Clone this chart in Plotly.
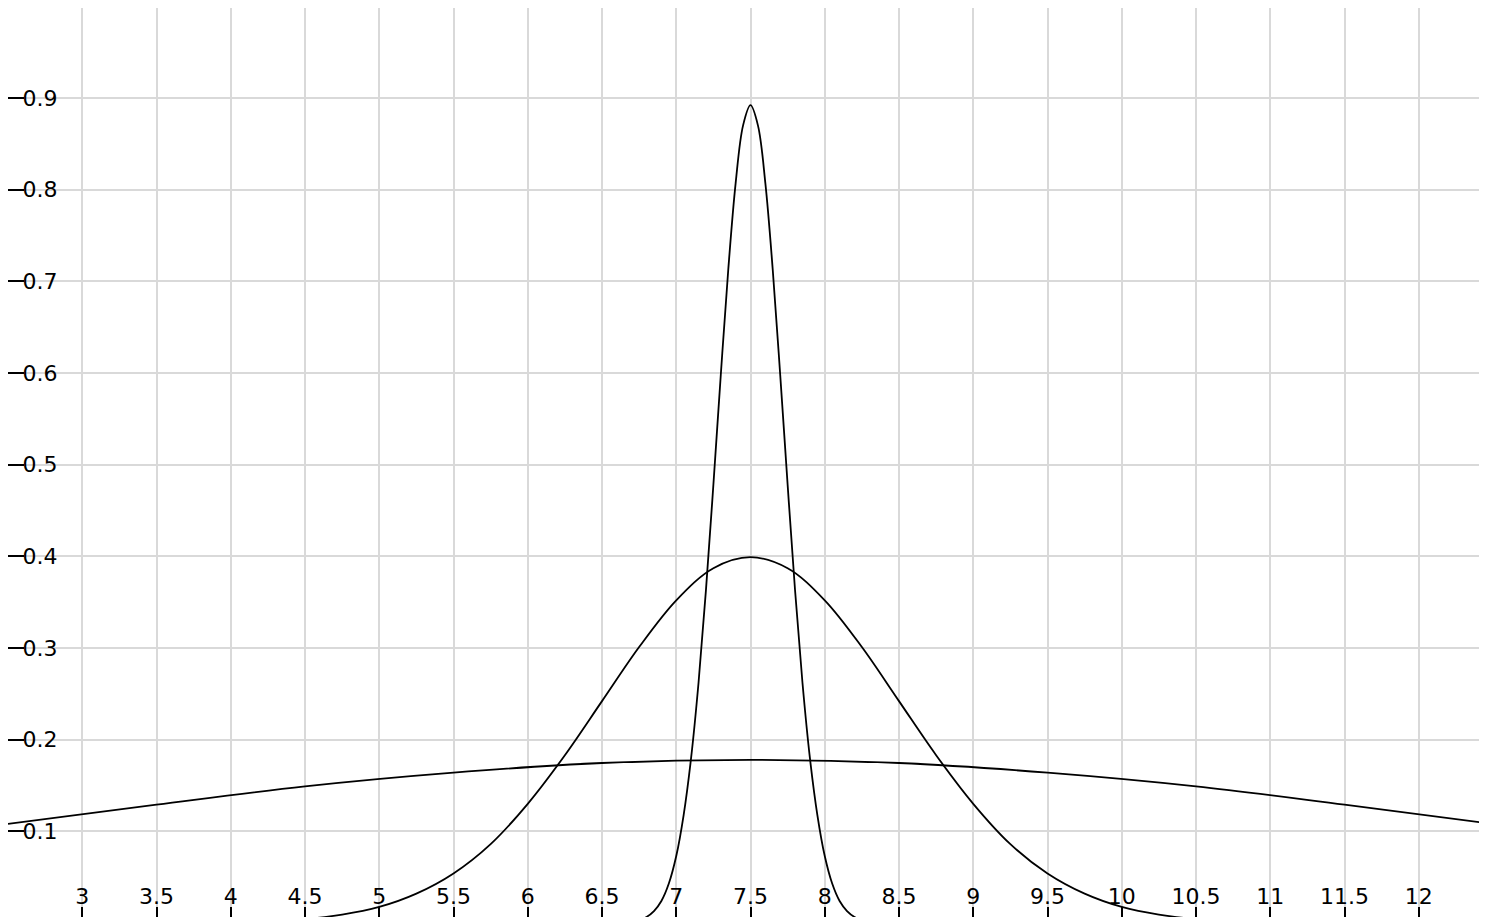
import plotly.graph_objects as go

# narrow curve (peak ~0.89)
x_narrow = [6.5, 6.65, 6.75, 6.8, 6.85, 6.9, 6.95, 7.0, 7.05, 7.1, 7.15, 7.2, 7.25, 7.3, 7.35, 7.4, 7.45, 7.5,
            7.55, 7.6, 7.65, 7.7, 7.75, 7.8, 7.85, 7.9, 7.95, 8.0, 8.05, 8.1, 8.15, 8.2, 8.25, 8.35, 8.5]
y_narrow = [0, 0.0007, 0.0032, 0.0066, 0.013, 0.024, 0.043, 0.073, 0.118, 0.180, 0.262,
            0.363, 0.478, 0.598, 0.712, 0.807, 0.870, 0.892, 0.870, 0.807, 0.712, 0.598, 0.478, 0.363,
            0.262, 0.180, 0.118, 0.073, 0.043, 0.024, 0.013, 0.0066, 0.0032, 0.0007, 0]

# middle curve (peak ~0.40)
x_mid = [2.5, 3.5, 4.0, 4.5, 4.75, 5.0, 5.25, 5.5, 5.75, 6.0, 6.25, 6.5, 6.75, 7.0, 7.25, 7.5,
         7.75, 8.0, 8.25, 8.5, 8.75, 9.0, 9.25, 9.5, 9.75, 10.0, 10.25, 10.5, 11.0, 11.5, 12.5]
y_mid = [0, 0.0001, 0.0009, 0.0044, 0.0091, 0.0175, 0.032, 0.054, 0.086, 0.130, 0.183, 0.242, 0.301,
         0.352, 0.387, 0.399, 0.387, 0.352, 0.301, 0.242, 0.183, 0.130, 0.086, 0.054, 0.032, 0.0175,
         0.0091, 0.0044, 0.0009, 0.0001, 0]

# wide curve (peak ~0.18)
x_wide = [2.5, 3.5, 4.5, 5.5, 6.5, 7.5, 8.5, 9.5, 10.5, 11.5, 12.5]
y_wide = [0.108, 0.129, 0.149, 0.164, 0.1745, 0.178, 0.1745, 0.164, 0.149, 0.129, 0.108]

x_ticks = [3, 3.5, 4, 4.5, 5, 5.5, 6, 6.5, 7, 7.5, 8, 8.5, 9, 9.5, 10, 10.5, 11, 11.5, 12]
y_ticks = [0.1, 0.2, 0.3, 0.4, 0.5, 0.6, 0.7, 0.8, 0.9]

fig = go.Figure()
for xs, ys in [(x_wide, y_wide), (x_mid, y_mid), (x_narrow, y_narrow)]:
    fig.add_trace(go.Scatter(x=xs, y=ys, mode="lines",
                             line=dict(color="black", width=1.8, shape="spline", smoothing=1.0),
                             showlegend=False, hoverinfo="skip"))

font = dict(family="DejaVu Sans", size=22, color="black")
fig.update_layout(
    width=1487, height=917,
    margin=dict(l=0, r=2, t=0, b=2),
    plot_bgcolor="white", paper_bgcolor="white",
    xaxis=dict(range=[2.5, 12.5], tickvals=x_ticks, ticktext=[f"{v:g}" for v in x_ticks],
               ticks="inside", ticklen=16, tickwidth=2, tickcolor="black",
               ticklabelposition="inside", tickfont=font,
               showgrid=True, gridcolor="#d9d9d9", gridwidth=2,
               showline=True, linecolor="black", linewidth=2, zeroline=False),
    yaxis=dict(range=[0, 0.998], tickvals=y_ticks, ticktext=[f"{v:g}" for v in y_ticks],
               ticks="inside", ticklen=16, tickwidth=2, tickcolor="black",
               ticklabelposition="inside", tickfont=font,
               showgrid=True, gridcolor="#d9d9d9", gridwidth=2,
               showline=True, linecolor="black", linewidth=2, zeroline=False),
)

fig.write_html("out.html")
